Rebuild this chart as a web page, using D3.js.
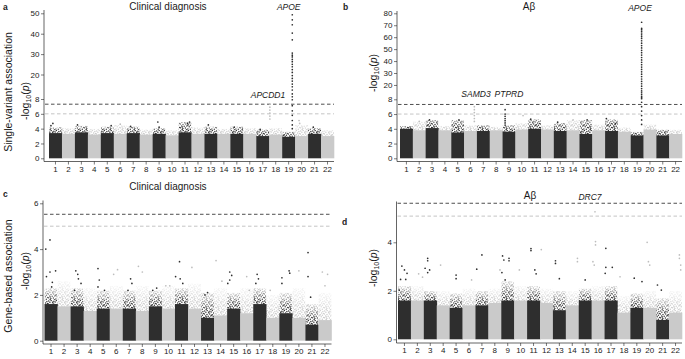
<!DOCTYPE html>
<html>
<head>
<meta charset="utf-8">
<script src="https://cdn.jsdelivr.net/npm/d3@7"></script>
<style>
  body { margin: 0; background: #fff; }
  svg { font-family: "Liberation Sans", Arial, sans-serif; }
  .tick text { font-size: 8px; fill: #222; }
  .tick line { stroke: #222; stroke-width: 0.6; }
</style>
</head>
<body>
<svg id="chart" width="685" height="359"></svg>
<script>
// chromosome categories
const chromosomes = d3.range(1, 23).map(String);

// y tick labels
const aTicks = [0, 2, 4, 6, 8, 20, 30, 40, 50];
const bTicks = [0, 2, 4, 6, 8, 20, 30, 40, 50, 60, 70, 80];
const cTicks = [0, 2, 4, 6];
const dTicks = [0, 2, 4];

// significance thresholds [suggestive, genome-wide]
const aLines = [6, 7.3];
const bLines = [6, 7.3];
const cLines = [5, 5.52];
const dLines = [5.08, 5.61];

// a: single-variant, clinical diagnosis
const aBulk   = [3.4, 3.3, 3.5, 3.2, 3.4, 3.3, 3.4, 3.2, 3.3, 3.1, 3.5, 3.3, 3.3, 3.3, 3.3, 3.3, 3.0, 3.2, 2.9, 3.0, 3.3, 3.0];
const aFringe = [4.2, 4.1, 4.4, 4.0, 4.3, 4.5, 4.3, 3.9, 4.1, 3.8, 4.9, 4.2, 4.3, 4.0, 4.3, 4.1, 3.9, 4.1, 3.6, 4.5, 4.1, 3.8];
const aPoints = [[1, 0.3, 4.7], [1, 0.15, 4.4], [3, 0.2, 4.5], [5, 0.8, 4.4], [6, 0.5, 4.6], [7, 0.3, 4.3],
  [9, 0.4, 4.9], [9, 0.5, 4.2], [11, 0.85, 4.9], [11, 0.7, 4.7], [13, 0.3, 4.5], [15, 0.3, 4.2],
  [17, 0.3, 3.9], [20, 0.3, 5.1], [20, 0.35, 4.7], [21, 0.4, 4.2]];
const aApcdd1 = [5.3, 5.7, 6.1, 6.5, 6.9, 7.3];
const aApoe = [49.3, 46.8, 44.4, 40.3, 37.0, 30.5, 29.5, 28.6, 27.4, 26.3, 25.0, 23.8, 22.4, 21.0, 19.5,
  18.1, 16.8, 15.3, 14.0, 12.4, 10.5, 9.1, 7.9, 7.1, 6.4, 5.8, 5.1, 4.5, 4.0];

// b: single-variant, Abeta
const bBulk   = [4.0, 3.8, 4.1, 3.8, 3.5, 3.7, 3.7, 3.8, 3.6, 3.9, 4.0, 3.9, 3.7, 3.8, 3.3, 3.8, 3.7, 3.6, 3.1, 3.9, 3.1, 3.3];
const bFringe = [4.4, 5.0, 5.2, 4.4, 5.2, 4.5, 4.5, 4.3, 4.5, 4.8, 5.3, 4.5, 4.8, 5.2, 5.2, 4.6, 5.3, 4.2, 3.6, 4.6, 3.9, 3.9];
const bPoints = [[3, 0.3, 5.2], [5, 0.6, 5.2], [10, 0.6, 5.8], [11, 0.2, 5.3], [13, 0.3, 4.9], [15, 0.6, 5.2],
  [17, 0.1, 5.4], [17, 0.8, 4.7], [2, 0.5, 5.0], [14, 0.5, 5.2]];
const bSamd3 = [5.0, 5.4, 5.8, 6.2, 6.6, 7.0];
const bPtprd = [4.5, 4.8, 5.1, 5.4, 5.7, 6.0, 6.6];
const bApoe = [72.5, 67.5, 66.5, 65, 63.5, 62, 60.5, 59, 57, 55, 53, 51, 49, 47, 45, 43, 41, 39, 37, 35, 33,
  31, 29, 27, 25, 23, 21, 19, 17, 15, 13.5, 12, 10.5, 9.5, 8.5, 7.6, 7.0, 6.4, 5.8, 5.2, 4.6];

// c: gene-based, clinical diagnosis
const cBulk   = [1.6, 1.5, 1.5, 1.3, 1.4, 1.4, 1.4, 1.3, 1.5, 1.4, 1.6, 1.4, 1.0, 1.1, 1.4, 1.2, 1.6, 1.0, 1.2, 1.0, 0.7, 0.9];
const cFringe = [2.3, 2.6, 2.3, 2.3, 2.2, 2.4, 2.2, 2.4, 2.2, 2.4, 2.3, 2.5, 2.1, 2.3, 2.1, 2.3, 2.3, 2.0, 2.1, 2.3, 1.6, 2.1];
const cPoints = [[1, 0.1, 4.0], [1, 0.42, 4.4], [1, 0.15, 2.8], [1, 0.42, 3.0], [1, 0.85, 3.05], [1, 0.6, 2.55], [1, 0.55, 2.35],
  [3, 0.4, 3.05], [3, 0.55, 2.9], [3, 0.6, 2.7], [3, 0.8, 2.5], [3, 0.3, 2.2],
  [5, 0.1, 3.15], [5, 0.2, 2.65], [5, 0.1, 2.35], [5, 0.6, 2.2], [6, 0.6, 3.1], [6, 0.3, 2.9],
  [7, 0.6, 2.7], [7, 0.7, 2.5], [7, 0.4, 2.2], [8, 0.2, 3.25], [8, 0.5, 3.0],
  [9, 0.6, 2.3], [9, 0.3, 2.2], [10, 0.3, 2.4], [10, 0.6, 2.4],
  [11, 0.35, 3.45], [11, 0.05, 2.8], [11, 0.4, 2.7], [11, 0.6, 2.5], [12, 0.3, 3.2],
  [13, 0.5, 2.1], [13, 0.3, 2.0], [14, 0.15, 3.5], [14, 0.6, 2.6],
  [15, 0.2, 3.0], [15, 0.35, 2.85], [15, 0.2, 2.65], [15, 0.05, 2.5], [16, 0.5, 2.8], [16, 0.7, 2.2],
  [17, 0.3, 2.9], [17, 0.4, 2.7], [17, 0.2, 2.5], [18, 0.3, 2.2],
  [19, 0.2, 2.75], [19, 0.75, 3.05], [19, 0.8, 2.95], [19, 0.2, 2.5], [20, 0.5, 3.05],
  [21, 0.2, 3.85], [21, 0.2, 2.8], [21, 0.4, 1.9], [22, 0.3, 3.0], [22, 0.7, 2.9], [22, 0.5, 2.4]];

// d: gene-based, Abeta
const dBulk   = [1.6, 1.6, 1.6, 1.4, 1.3, 1.4, 1.4, 1.5, 1.6, 1.6, 1.6, 1.5, 1.2, 1.4, 1.6, 1.6, 1.6, 1.1, 1.3, 1.3, 0.8, 1.1];
const dFringe = [2.2, 2.2, 2.0, 2.0, 1.9, 2.1, 2.0, 2.1, 2.4, 2.2, 2.2, 2.1, 2.0, 2.0, 2.1, 2.2, 2.2, 1.8, 1.9, 2.0, 1.7, 2.0];
const dPoints = [[1, 0.3, 3.02], [1, 0.5, 2.86], [1, 0.7, 2.72], [1, 0.2, 2.47], [1, 0.6, 2.47], [1, 0.1, 2.03],
  [2, 0.6, 2.7], [2, 0.9, 2.56], [3, 0.3, 3.34], [3, 0.3, 3.24], [3, 0.1, 2.93], [3, 0.45, 2.86], [3, 0.3, 2.75],
  [4, 0.3, 3.06], [5, 0.5, 2.65], [5, 0.5, 2.5], [6, 0.7, 2.45], [7, 0.1, 2.89], [7, 0.5, 3.48], [8, 0.9, 2.86],
  [9, 0.1, 3.44], [9, 0.2, 3.27], [9, 0.6, 3.34], [9, 0.6, 3.24], [9, 0.05, 2.75], [9, 0.3, 2.45],
  [10, 0.4, 2.86], [11, 0.3, 3.74], [11, 0.3, 3.66], [11, 0.6, 2.86], [11, 0.7, 2.7], [12, 0.1, 3.7],
  [13, 0.2, 3.24], [13, 0.2, 3.13], [13, 0.5, 2.5], [14, 0.9, 3.34], [14, 0.9, 3.2], [15, 0.5, 2.45],
  [16, 0.26, 5.26], [16, 0.3, 4.03], [16, 0.3, 3.89], [16, 0.1, 3.2], [16, 0.2, 3.06],
  [17, 0.1, 3.75], [17, 0.1, 2.97], [17, 0.05, 2.72], [17, 0.6, 2.97], [18, 0.2, 2.58],
  [19, 0.3, 2.52], [19, 0.9, 2.38], [20, 0.3, 4.0], [20, 0.4, 3.2], [20, 0.5, 3.06],
  [21, 0.1, 2.24], [21, 0.4, 2.03], [22, 0.8, 3.48], [22, 0.8, 3.34], [22, 0.9, 3.06], [22, 0.9, 2.86]];

const dark = "#2e2e2e", light = "#cacaca";

const svg = d3.select("#chart");
const defs = svg.append("defs");

// stipple texture (hand-placed, irregular) for the thinning upper part of each chromosome
const stipple = [[0.7, 0.9], [3.2, 0.4], [5.9, 1.2], [8.4, 0.6], [10.9, 1.4], [1.9, 2.3], [4.6, 2.8],
  [7.2, 2.1], [9.6, 3.0], [11.5, 3.6], [0.4, 3.9], [3.0, 4.4], [5.7, 4.0], [8.3, 4.7], [10.4, 5.2],
  [1.6, 5.9], [4.2, 6.3], [6.8, 6.0], [9.2, 6.8], [11.6, 7.4], [0.6, 7.8], [2.9, 8.4], [5.4, 8.0],
  [7.9, 8.9], [10.3, 9.2], [2.2, 9.6], [6.5, 9.7], [4.9, 2.0], [7.6, 5.3], [2.4, 7.1]];
[["dotsDark", dark], ["dotsLight", light]].forEach(([id, col]) => {
  const p = defs.append("pattern").attr("id", id)
    .attr("patternUnits", "userSpaceOnUse").attr("width", 12).attr("height", 10);
  stipple.forEach(([cx, cy]) =>
    p.append("circle").attr("cx", cx).attr("cy", cy).attr("r", 0.75).attr("fill", col));
});
function fadeMask(id, stops) {
  const grad = defs.append("linearGradient").attr("id", id + "Grad")
    .attr("x1", 0).attr("y1", 1).attr("x2", 0).attr("y2", 0);
  stops.forEach(([o, c]) => grad.append("stop").attr("offset", o).attr("stop-color", c));
  defs.append("mask").attr("id", id).attr("maskContentUnits", "objectBoundingBox")
    .append("rect").attr("width", 1).attr("height", 1).attr("fill", `url(#${id}Grad)`);
}
fadeMask("fadeSoft", [[0, "#fff"], [0.55, "#eee"], [1, "#777"]]);
fadeMask("fade", [[0, "#fff"], [0.35, "#ddd"], [0.75, "#666"], [1, "#333"]]);

const panels = [
  { bulk: aBulk, fringe: aFringe, ticks: aTicks, lines: aLines, mask: "fadeSoft",
    points: aPoints.concat(aApcdd1.map(v => [18, 0.05, v]), aApoe.map(v => [19, 0.78, v])),
    yDomain: [0, 8, 50], yRange: [158.3, 99, 13.3], yTop: 10, xRange: [49, 334], axisX: 44, axisY: 161.5 },
  { bulk: bBulk, fringe: bFringe, ticks: bTicks, lines: bLines, mask: "fadeSoft",
    points: bPoints.concat(bSamd3.map(v => [6, 0.8, v]), bPtprd.map(v => [9, 0.2, v]), bApoe.map(v => [19, 0.85, v])),
    yDomain: [0, 8, 80], yRange: [158.3, 99.3, 13.3], yTop: 11, xRange: [400, 682], axisX: 397, axisY: 161.5 },
  { bulk: cBulk, fringe: cFringe, ticks: cTicks, lines: cLines, points: cPoints, mask: "fade",
    yDomain: [0, 6], yRange: [340.7, 203.3], yTop: 200.5, xRange: [44.5, 331.5], axisX: 43, axisY: 344 },
  { bulk: dBulk, fringe: dFringe, ticks: dTicks, lines: dLines, points: dPoints, mask: "fade",
    yDomain: [0, 4], yRange: [339.3, 242.3], yTop: 201.5, xRange: [398, 682], axisX: 396.5, axisY: 343 }
];

panels.forEach(p => {
  const x = d3.scaleBand().domain(chromosomes).range(p.xRange);
  const y = d3.scaleLinear().domain(p.yDomain).range(p.yRange);
  const g = svg.append("g");
  const isDark = c => (+c) % 2 === 1;

  // dense mass of each chromosome
  g.selectAll(".bulk").data(chromosomes).join("rect")
    .attr("x", c => x(c)).attr("width", x.bandwidth() + 0.3)
    .attr("y", (c, i) => y(p.bulk[i])).attr("height", (c, i) => y(0) - y(p.bulk[i]))
    .attr("fill", c => isDark(c) ? dark : light);

  // thinning upper part
  g.selectAll(".fringe").data(chromosomes).join("rect")
    .attr("x", c => x(c)).attr("width", x.bandwidth())
    .attr("y", (c, i) => y(p.fringe[i])).attr("height", (c, i) => y(p.bulk[i]) - y(p.fringe[i]) + 0.5)
    .attr("fill", c => isDark(c) ? "url(#dotsDark)" : "url(#dotsLight)")
    .attr("mask", `url(#${p.mask})`);

  // threshold lines
  g.selectAll(".thr").data(p.lines).join("line")
    .attr("x1", p.axisX + 1).attr("x2", p.xRange[1])
    .attr("y1", d => y(d)).attr("y2", d => y(d))
    .attr("stroke", (d, i) => i === 0 ? "#b5b5b5" : "#222")
    .attr("stroke-width", 0.8).attr("stroke-dasharray", "3.5,2.5");

  // individual points
  g.selectAll(".pt").data(p.points).join("circle")
    .attr("cx", d => x(String(d[0])) + d[1] * x.bandwidth())
    .attr("cy", d => y(d[2])).attr("r", 0.85)
    .attr("fill", d => d[0] % 2 === 1 ? dark : "#bdbdbd");

  // axes
  const yAxis = g.append("g").attr("transform", `translate(${p.axisX},0)`)
    .call(d3.axisLeft(y).tickValues(p.ticks).tickFormat(d3.format("d")).tickSize(3).tickPadding(1.5));
  yAxis.select(".domain").remove();
  const xAxis = g.append("g").attr("transform", `translate(0,${p.axisY})`)
    .call(d3.axisBottom(x).tickSize(3).tickPadding(1.5));
  xAxis.select(".domain").remove();
  g.append("path")
    .attr("d", `M${p.axisX},${p.yTop}V${p.axisY}H${p.xRange[1]}`)
    .attr("fill", "none").attr("stroke", "#222").attr("stroke-width", 0.7);
});

// text
function addText(x, y, str, opts = {}) {
  return svg.append("text").attr("x", x).attr("y", y)
    .attr("text-anchor", opts.anchor || "middle")
    .attr("font-size", opts.size || 10)
    .attr("font-weight", opts.bold ? "bold" : null)
    .attr("font-style", opts.italic ? "italic" : null)
    .attr("fill", "#1a1a1a").text(str);
}
addText(3, 10, "a", { anchor: "start", bold: true, size: 8.5 });
addText(343, 10, "b", { anchor: "start", bold: true, size: 8.5 });
addText(3, 197, "c", { anchor: "start", bold: true, size: 8.5 });
addText(342, 225, "d", { anchor: "start", bold: true, size: 8.5 });

addText(168, 10, "Clinical diagnosis");
addText(529, 10, "Aβ");
addText(168, 190, "Clinical diagnosis");
addText(530, 199, "Aβ");

addText(288.7, 10, "APOE", { italic: true, size: 8.5 });
addText(268, 97.5, "APCDD1", { italic: true, size: 8.5 });
addText(640, 11, "APOE", { italic: true, size: 8.5 });
addText(476, 97, "SAMD3", { italic: true, size: 8.5 });
addText(509, 97, "PTPRD", { italic: true, size: 8.5 });
addText(590, 200, "DRC7", { italic: true, size: 8.5 });

function rotated(x, y, str) {
  svg.append("text").attr("transform", `translate(${x},${y}) rotate(-90)`)
    .attr("text-anchor", "middle").attr("font-size", 10.5).attr("fill", "#1a1a1a").text(str);
}
function logLabel(x, y) {
  const t = svg.append("text").attr("transform", `translate(${x},${y}) rotate(-90)`)
    .attr("text-anchor", "middle").attr("font-size", 10.5).attr("fill", "#1a1a1a");
  t.append("tspan").text("-log");
  t.append("tspan").attr("font-size", 7).attr("dy", 2).text("10");
  t.append("tspan").attr("dy", -2).text("(");
  t.append("tspan").attr("font-style", "italic").text("p");
  t.append("tspan").text(")");
}
rotated(12, 92, "Single-variant association");
rotated(12, 276, "Gene-based association");
logLabel(29, 101);
logLabel(377, 73);
logLabel(29, 271);
logLabel(377, 268);
</script>
</body>
</html>
